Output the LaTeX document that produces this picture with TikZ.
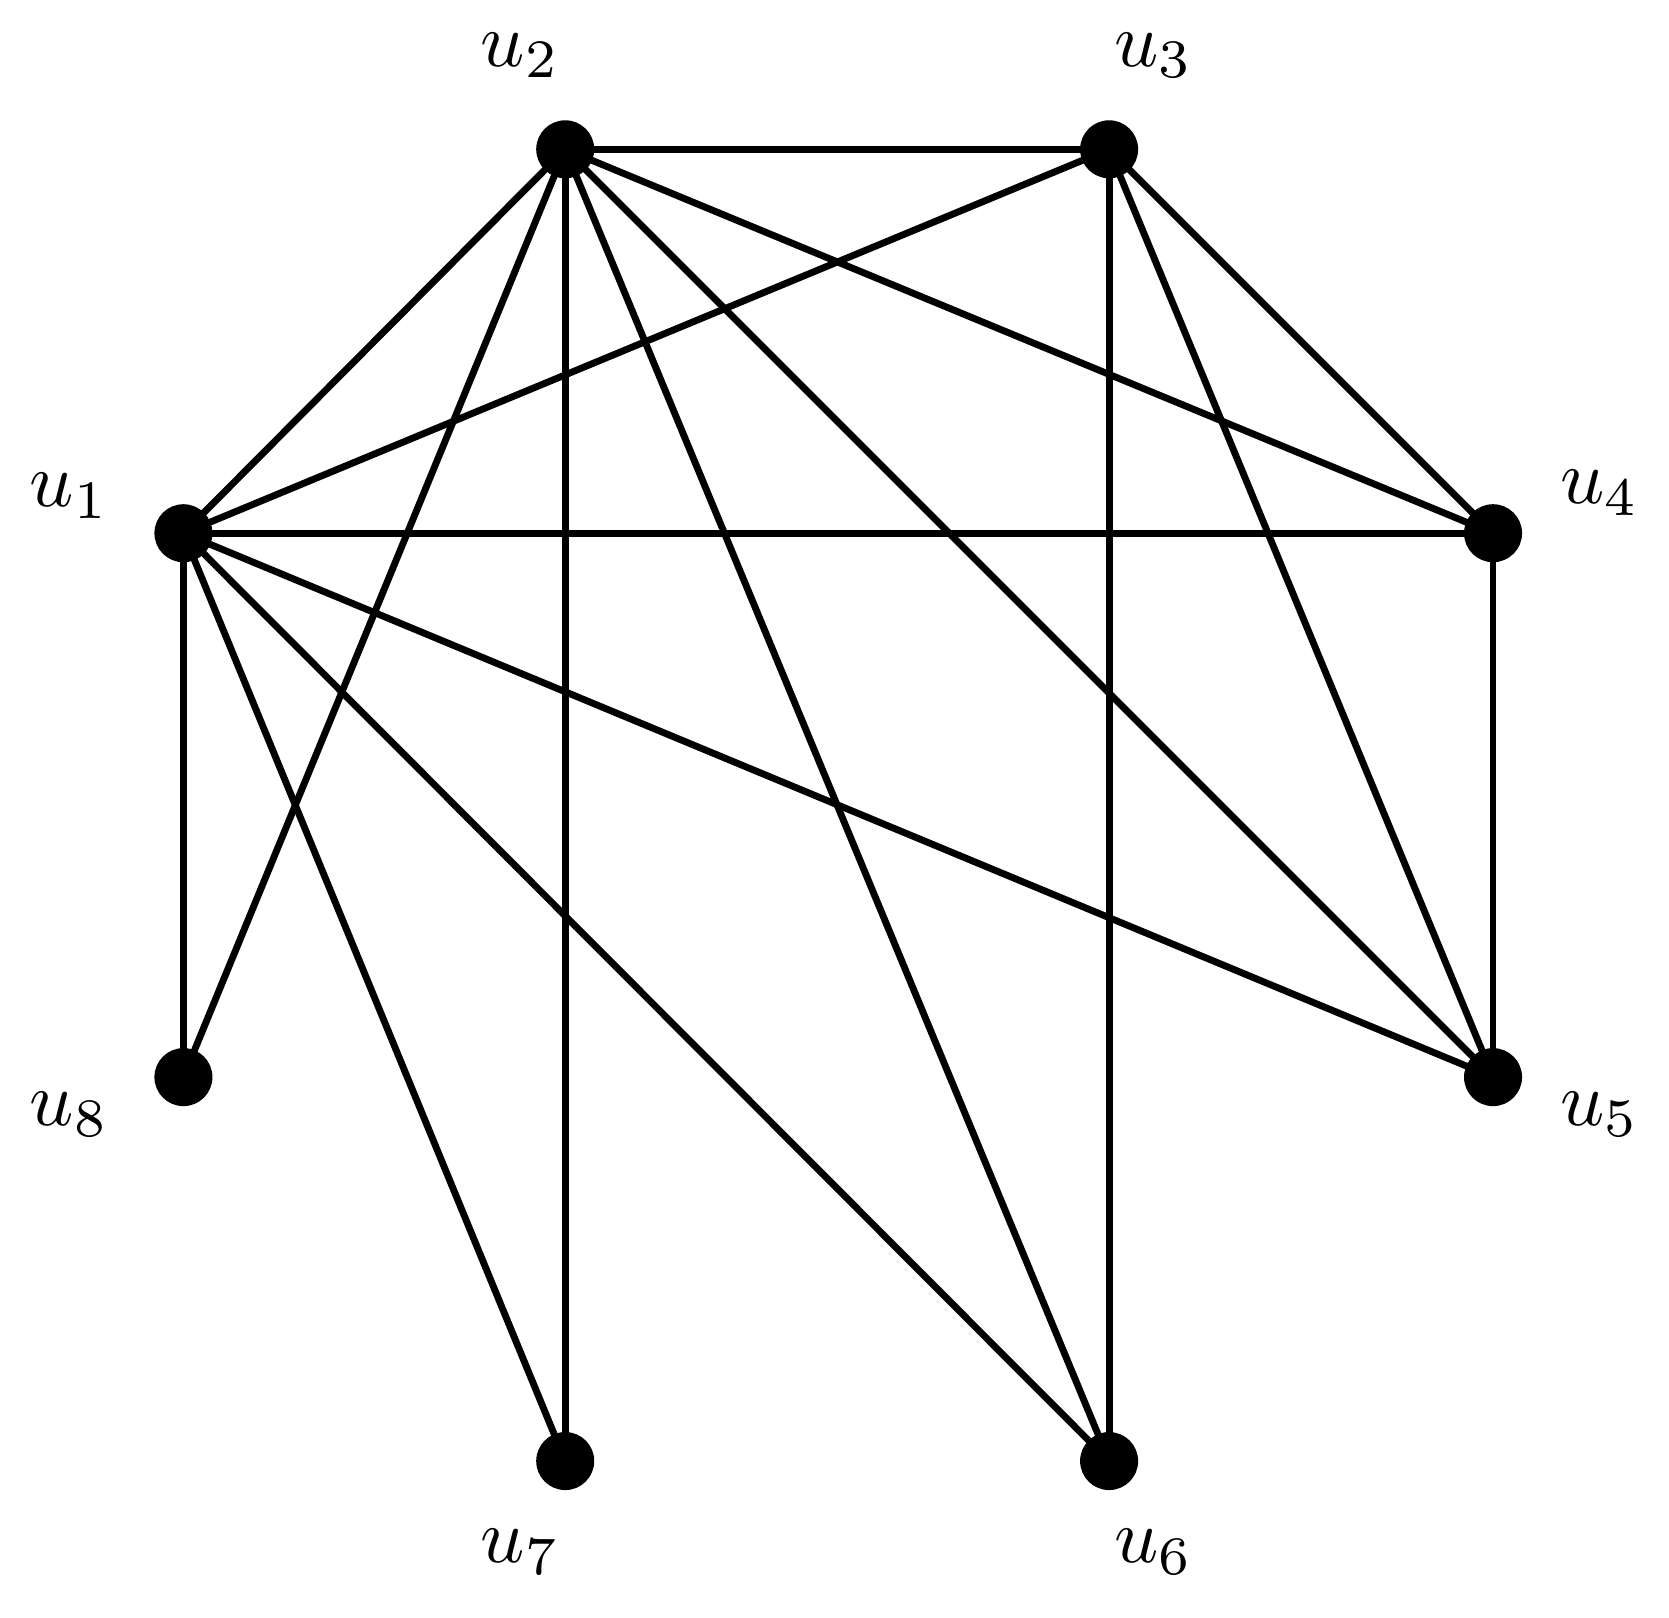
\documentclass[tikz,border=0pt]{standalone}
\begin{document}
\begin{tikzpicture}[x=0.02132cm,y=-0.02132cm,
  vtx/.style={circle,fill=black,inner sep=0pt,minimum size=1.16cm},
  lbl/.style={scale=4.4},
  edge/.style={line width=3.9pt}]
\useasboundingbox (0,0) rectangle (1565,1517);
\node[vtx] (u1) at (172,500) {};
\node[vtx] (u2) at (530,140) {};
\node[vtx] (u3) at (1040,140) {};
\node[vtx] (u4) at (1400,500) {};
\node[vtx] (u5) at (1400,1010) {};
\node[vtx] (u6) at (1040,1370) {};
\node[vtx] (u7) at (530,1370) {};
\node[vtx] (u8) at (172,1010) {};
\node[lbl] (l1) at (65,465) {$u_1$};
\node[lbl] (l2) at (488,52) {$u_2$};
\node[lbl] (l3) at (1082,52) {$u_3$};
\node[lbl] (l4) at (1500,462) {$u_4$};
\node[lbl] (l5) at (1500,1045) {$u_5$};
\node[lbl] (l6) at (1082,1455) {$u_6$};
\node[lbl] (l7) at (488,1455) {$u_7$};
\node[lbl] (l8) at (65,1045) {$u_8$};
\foreach \a/\b in {u2/u3,u2/u1,u2/u8,u2/u7,u2/u6,u2/u5,u2/u4,u3/u1,u3/u6,u3/u5,u3/u4,u1/u4,u1/u5,u1/u6,u1/u7,u1/u8,u4/u5}
  \draw[edge] (\a.center) -- (\b.center);
\end{tikzpicture}
\end{document}
